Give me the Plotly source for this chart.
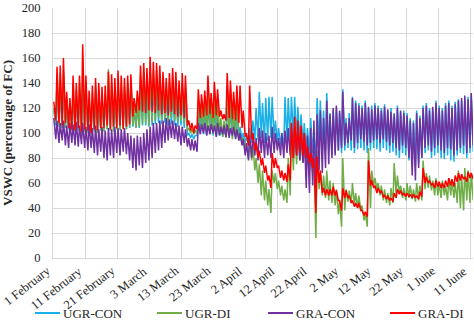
import pandas as pd
import plotly.graph_objects as go

START = "2019-02-01"

# daily maxima / minima of volumetric soil water content (% of field capacity), 1 Feb - 12 Jun
UGR_CON_PEAK = [
    118, 130, 132, 134, 120, 118, 128, 126, 130, 140,
    128, 120, 124, 128, 126, 124, 126, 132, 130, 128,
    132, 130, 128, 130, 132, 118, 122, 136, 138, 134,
    140, 138, 138, 136, 132, 128, 130, 134, 132, 126,
    130, 128, 100, 99, 98, 116, 114, 116, 124, 114,
    120, 118, 106, 104, 124, 120, 116, 118, 105, 100,
    98, 104, 110, 120, 133, 124, 128, 129, 129, 110,
    104, 100, 129, 128, 129, 129, 121, 115, 108, 104,
    112, 100, 128, 126, 118, 132, 116, 118, 120, 116,
    135, 112, 116, 129, 126, 124, 122, 126, 120, 122,
    124, 122, 120, 123, 118, 120, 116, 122, 117, 118,
    116, 112, 110, 118, 114, 122, 124, 120, 119, 126,
    122, 120, 124, 126, 122, 125, 127, 126, 128, 129,
    130, 128,
]
UGR_CON_LOW = [
    106, 105, 104, 104, 103, 103, 102, 103, 102, 102,
    101, 101, 102, 101, 102, 102, 103, 102, 102, 103,
    103, 104, 103, 104, 105, 104, 104, 106, 106, 105,
    106, 107, 108, 107, 108, 106, 107, 106, 105, 106,
    104, 98, 96, 95, 98, 100, 99, 98, 99, 98,
    97, 98, 97, 97, 98, 96, 97, 96, 95, 92,
    90, 92, 95, 94, 96, 92, 94, 96, 95, 92,
    90, 88, 92, 94, 96, 95, 92, 90, 86, 80,
    84, 76, 86, 84, 86, 85, 82, 84, 86, 84,
    86, 88, 86, 84, 87, 88, 86, 84, 86, 88,
    87, 85, 88, 86, 84, 85, 82, 80, 84, 82,
    78, 76, 74, 76, 80, 84, 86, 80, 82, 84,
    80, 79, 82, 78, 77, 82, 84, 83, 80, 84,
    85, 86,
]

UGR_DI_PEAK = [
    120, 145, 148, 150, 128, 122, 138, 135, 140, 160,
    140, 128, 132, 138, 134, 130, 132, 151, 140, 138,
    144, 140, 138, 140, 142, 122, 128, 146, 150, 146,
    152, 150, 150, 148, 142, 138, 140, 146, 142, 136,
    140, 138, 104, 103, 102, 126, 124, 126, 136, 124,
    132, 128, 112, 110, 138, 134, 126, 130, 98, 96,
    92, 95, 90, 80, 75, 70, 62, 55, 70, 68,
    62, 58, 55, 80, 100, 104, 100, 95, 88, 82,
    80, 78, 86, 70, 66, 70, 62, 60, 55, 46,
    80, 55, 54, 60, 52, 50, 42, 36, 88, 70,
    64, 60, 58, 55, 52, 56, 76, 66, 58, 56,
    60, 58, 55, 60, 58, 78, 68, 66, 62, 64,
    60, 62, 58, 64, 62, 60, 70, 66, 72, 70,
    68, 72,
]
UGR_DI_LOW = [
    108, 106, 104, 105, 103, 102, 101, 102, 100, 101,
    100, 99, 101, 100, 102, 101, 103, 102, 101, 103,
    102, 104, 103, 105, 106, 104, 105, 107, 108, 106,
    109, 110, 112, 110, 111, 109, 112, 110, 109, 110,
    108, 102, 100, 99, 100, 104, 103, 102, 101, 100,
    99, 98, 97, 96, 97, 95, 96, 94, 92, 88,
    80, 78, 70, 60, 50, 46, 42, 36, 60, 55,
    50, 46, 44, 50, 70, 75, 78, 76, 72, 70,
    68, 16, 55, 50, 48, 46, 44, 42, 35, 25,
    38, 45, 44, 42, 40, 38, 30, 25, 40, 58,
    55, 50, 46, 44, 42, 44, 50, 52, 48, 46,
    48, 47, 45, 46, 46, 55, 56, 54, 50, 50,
    48, 50, 46, 50, 48, 44, 40, 38, 46, 44,
    46, 50,
]

GRA_CON_PEAK = [
    112, 110, 108, 110, 106, 108, 107, 109, 106, 108,
    105, 107, 104, 106, 103, 105, 102, 104, 103, 105,
    104, 103, 104, 100, 98, 96, 98, 97, 100, 103,
    105, 108, 108, 110, 110, 112, 111, 110, 108, 106,
    105, 103, 96, 95, 94, 108, 107, 108, 106, 107,
    106, 108, 105, 106, 107, 104, 105, 103, 100, 95,
    92, 98, 100, 96, 104, 102, 100, 98, 105, 100,
    96, 100, 102, 104, 106, 105, 104, 100, 100, 98,
    104, 110, 115, 118, 112, 126, 115, 120, 122, 118,
    133, 108, 112, 128, 124, 122, 120, 124, 121, 119,
    122, 120, 118, 121, 119, 117, 115, 120, 118, 116,
    114, 110, 108, 116, 112, 120, 122, 118, 121, 124,
    120, 118, 122, 124, 120, 123, 126, 128, 130, 127,
    132, 130,
]
GRA_CON_LOW = [
    95, 92, 94, 90, 88, 92, 90, 89, 91, 88,
    86, 88, 84, 82, 85, 80, 78, 82, 80, 84,
    82, 85, 83, 78, 72, 70, 74, 72, 76, 78,
    80, 84, 86, 88, 92, 94, 96, 95, 93, 90,
    92, 89, 86, 86, 85, 99, 100, 98, 99, 100,
    97, 98, 99, 97, 96, 98, 95, 94, 90, 82,
    78, 80, 82, 78, 84, 80, 82, 80, 84, 86,
    82, 80, 84, 82, 80, 82, 78, 76, 56, 52,
    58, 52, 70, 68, 72, 75, 80, 82, 86, 88,
    90, 92, 94, 88, 92, 95, 93, 90, 92, 94,
    95, 92, 95, 93, 90, 92, 88, 86, 90, 88,
    80, 66, 62, 72, 80, 88, 90, 85, 88, 90,
    86, 84, 88, 87, 82, 86, 88, 90, 84, 88,
    90, 92,
]

GRA_DI_PEAK = [
    125, 153, 154, 160, 133, 128, 146, 140, 146, 171,
    146, 134, 138, 144, 140, 137, 138, 149, 147, 144,
    150, 146, 144, 146, 147, 128, 134, 154, 156, 152,
    161, 157, 156, 154, 149, 144, 148, 152, 149, 142,
    148, 146, 110, 108, 106, 135, 131, 134, 146, 132,
    141, 135, 118, 115, 148, 142, 133, 138, 138, 118,
    100, 138, 100, 92, 86, 80, 74, 66, 84, 80,
    74, 70, 68, 75, 108, 113, 110, 106, 100, 90,
    84, 80, 81, 70, 56, 55, 55, 57, 54, 46,
    56, 54, 50, 46, 44, 44, 38, 37, 78, 62,
    58, 56, 54, 50, 50, 48, 52, 55, 54, 52,
    52, 51, 51, 50, 53, 72, 65, 62, 60, 62,
    61, 60, 62, 64, 63, 66, 68, 67, 65, 69,
    68, 70,
]
GRA_DI_LOW = [
    110, 108, 106, 108, 104, 103, 102, 104, 101, 103,
    102, 100, 103, 102, 104, 104, 106, 103, 105, 104,
    106, 103, 105, 107, 113, 116, 118, 117, 116, 118,
    117, 116, 118, 115, 116, 114, 117, 115, 113, 114,
    112, 106, 102, 100, 103, 112, 113, 114, 115, 112,
    114, 113, 111, 110, 112, 111, 110, 108, 104, 97,
    90, 95, 86, 80, 74, 68, 62, 56, 72, 72,
    64, 62, 61, 62, 80, 82, 85, 82, 80, 76,
    72, 36, 60, 52, 50, 50, 50, 50, 46, 38,
    48, 48, 44, 41, 40, 38, 34, 33, 58, 56,
    52, 52, 49, 47, 46, 45, 48, 51, 50, 49,
    49, 48, 48, 47, 49, 60, 60, 58, 56, 57,
    56, 56, 57, 58, 57, 61, 62, 63, 61, 64,
    63, 64,
]

TICK_LABELS = [
    "1 February", "11 February", "21 February", "3 March", "13 March",
    "23 March", "2 April", "12 April", "22 April", "2 May", "12 May",
    "22 May", "1 June", "11 June",
]

SERIES = [
    ("UGR-CON", UGR_CON_PEAK, UGR_CON_LOW, "#1AAFE6"),
    ("UGR-DI", UGR_DI_PEAK, UGR_DI_LOW, "#70AD47"),
    ("GRA-CON", GRA_CON_PEAK, GRA_CON_LOW, "#7030A0"),
    ("GRA-DI", GRA_DI_PEAK, GRA_DI_LOW, "#FF0000"),
]

start = pd.Timestamp(START)


def daily_cycle(peaks, lows):
    """Interleave each day's irrigation peak (morning) and minimum (night)."""
    t, v = [], []
    for d, (hi, lo) in enumerate(zip(peaks, lows)):
        day = start + pd.Timedelta(days=d)
        t += [day + pd.Timedelta(hours=6), day + pd.Timedelta(hours=21)]
        v += [hi, lo]
    return t, v


fig = go.Figure()
for name, hi, lo, color in SERIES:
    t, v = daily_cycle(hi, lo)
    fig.add_trace(go.Scatter(x=t, y=v, mode="lines", name=name, showlegend=False,
                             line=dict(color=color, width=1.5)))

FONT = "Liberation Serif"
TEXT = "#262626"
grid = "#D9D9D9"
W, H = 474, 328
M = dict(l=53, r=1, t=8, b=70)
tickvals = [start + pd.Timedelta(days=10 * i) for i in range(len(TICK_LABELS))]


def px_x(px):
    return (px - M["l"]) / (W - M["l"] - M["r"])


def px_y(py):
    return (H - M["b"] - py) / (H - M["t"] - M["b"])


# slanted date labels: the upper-right corner of each label sits at its gridline
for tv, label in zip(tickvals, TICK_LABELS):
    fig.add_annotation(x=tv, y=0, xref="x", yref="paper", text=label,
                       textangle=-38, xanchor="right", yanchor="top",
                       xshift=3, yshift=-3, showarrow=False,
                       font=dict(family=FONT, size=12.5, color=TEXT))

# legend row under the date labels: a short line sample followed by the series name
legend_left = [35, 157, 268, 390]
legend_y = 313
for (name, _, _, color), x0 in zip(SERIES, legend_left):
    fig.add_shape(type="line", xref="paper", yref="paper",
                  x0=px_x(x0), x1=px_x(x0 + 25), y0=px_y(legend_y), y1=px_y(legend_y),
                  line=dict(color=color, width=2))
    fig.add_annotation(x=px_x(x0 + 26), y=px_y(legend_y), xref="paper", yref="paper",
                       text=name, xanchor="left", yanchor="middle", showarrow=False,
                       font=dict(family=FONT, size=13, color=TEXT))

fig.update_layout(
    width=W, height=H,
    margin=M,
    paper_bgcolor="white", plot_bgcolor="white",
    font=dict(family=FONT, size=12.5, color=TEXT),
    showlegend=False,
    xaxis=dict(
        range=[start, start + pd.Timedelta(days=130.8)],
        tickmode="array", tickvals=tickvals, showticklabels=False,
        showgrid=True, gridcolor=grid, gridwidth=1,
        showline=True, linecolor=grid, linewidth=1, zeroline=False, ticks="",
    ),
    yaxis=dict(
        range=[0, 200], dtick=20, showgrid=True, gridcolor=grid, gridwidth=1,
        showline=True, linecolor=grid, zeroline=False, ticks="",
        ticklabelstandoff=9,
        title=dict(text="<b>VSWC (percentage of FC)</b>", standoff=7,
                   font=dict(family=FONT, size=13, color=TEXT)),
    ),
)

fig.write_html("out.html")
